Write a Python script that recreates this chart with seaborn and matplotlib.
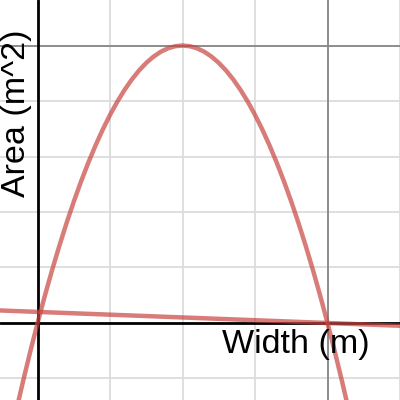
import seaborn as sns
import matplotlib.pyplot as plt
import pandas as pd

# area curve: width (m) vs area (m^2)
width = [-2, -1.5, -1, -0.5, 0, 0.5, 1, 1.5, 2, 2.5, 3, 3.5, 4, 4.5, 5, 5.5, 6, 6.5, 7, 7.5,
         8, 8.5, 9, 9.5, 10, 10.5, 11, 11.5, 12, 12.5, 13, 13.5, 14, 14.5, 15, 15.5, 16, 16.5,
         17, 17.5, 18, 18.5, 19, 19.5, 20, 20.5, 21, 21.5, 22]
area = [-44, -32.25, -21, -10.25, 0, 9.75, 19, 27.75, 36, 43.75, 51, 57.75, 64, 69.75, 75,
        79.75, 84, 87.75, 91, 93.75, 96, 97.75, 99, 99.75, 100, 99.75, 99, 97.75, 96, 93.75,
        91, 87.75, 84, 79.75, 75, 69.75, 64, 57.75, 51, 43.75, 36, 27.75, 19, 9.75, 0,
        -10.25, -21, -32.25, -44]

# nearly flat line
line_x = [-3, 26]
line_y = [4.6, -1.2]

x_minor = [5, 10, 15, 25]
y_minor = [-20, 20, 40, 60, 80]
x_major = [20]
y_major = [100]

df_curve = pd.DataFrame({'w': width, 'a': area})
df_line = pd.DataFrame({'w': line_x, 'a': line_y})

sns.set_style('white')
plt.rcParams['font.family'] = ['Liberation Sans', 'DejaVu Sans']

fig = plt.figure(figsize=(4, 4), dpi=100)
ax = fig.add_axes([0, 0, 1, 1])

red = '#c74440'
for v in x_minor:
    ax.axvline(v, color='#dcdcdc', lw=1.3, zorder=0)
for v in y_minor:
    ax.axhline(v, color='#dcdcdc', lw=1.3, zorder=0)
for v in x_major:
    ax.axvline(v, color='#8c8c8c', lw=1.4, zorder=1)
for v in y_major:
    ax.axhline(v, color='#8c8c8c', lw=1.4, zorder=1)
ax.axvline(0, color='black', lw=2.0, zorder=2)
ax.axhline(0, color='black', lw=2.0, zorder=2)

sns.lineplot(data=df_curve, x='w', y='a', color=red, alpha=0.7, lw=3.2, ax=ax, zorder=3,
             solid_joinstyle='round')
sns.lineplot(data=df_line, x='w', y='a', color=red, alpha=0.7, lw=3.2, ax=ax, zorder=3)

ax.set_xlim(-2.59, 25)
ax.set_ylim(-27.75, 116.4)
ax.set_xticks([])
ax.set_yticks([])
ax.set_xlabel('')
ax.set_ylabel('')
for s in ax.spines.values():
    s.set_visible(False)

ax.text(0.925, 0.1175, 'Width (m)', transform=ax.transAxes, ha='right', va='baseline',
        fontsize=24.5, color='black', zorder=4)
ax.text(0.0625, 0.5075, 'Area (m^2)', transform=ax.transAxes, ha='left', va='baseline',
        rotation=90, rotation_mode='anchor', fontsize=24.5, color='black', zorder=4)

plt.savefig('out.png', dpi=100)
